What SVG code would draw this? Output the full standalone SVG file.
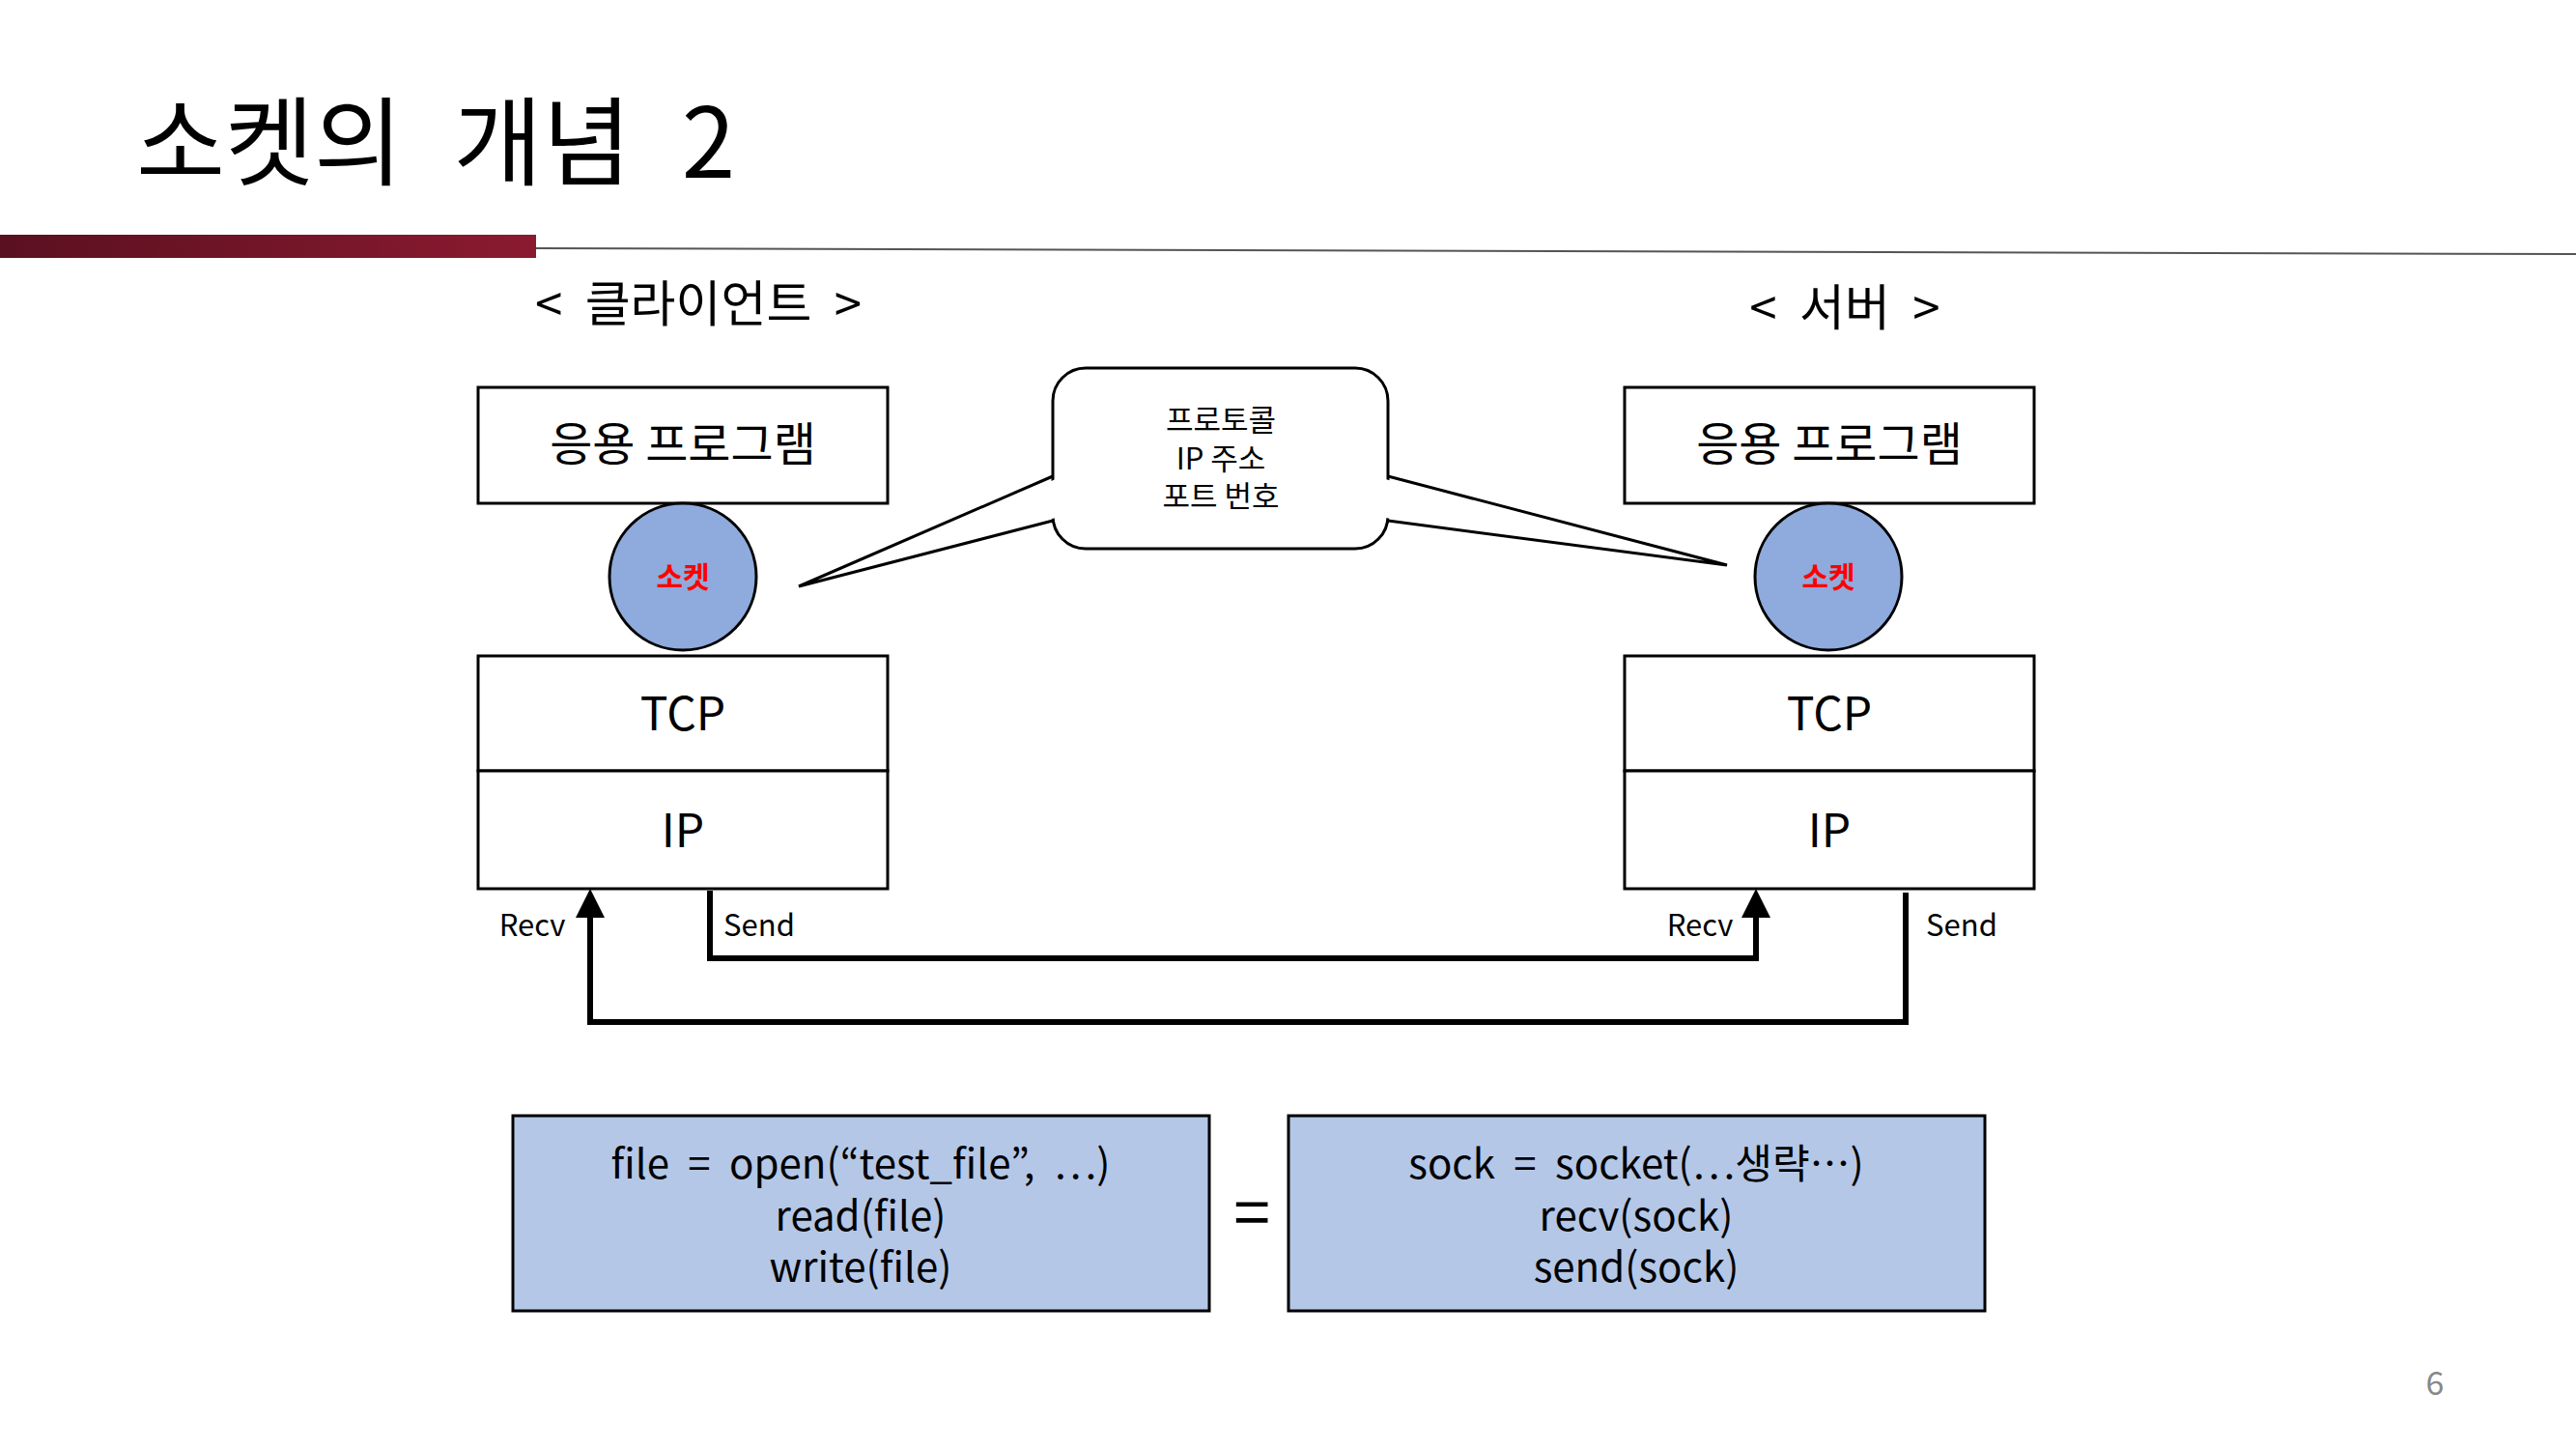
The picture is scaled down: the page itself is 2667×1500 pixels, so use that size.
<svg xmlns="http://www.w3.org/2000/svg" width="2667" height="1500" viewBox="0 0 2667 1500">
<style>
text{font-family:"Noto Sans CJK KR","Noto Sans",sans-serif;fill:#000;text-anchor:middle}
.box{fill:#fff;stroke:#000;stroke-width:3}
.code{fill:#b4c7e7;stroke:#000;stroke-width:3}
.sock{fill:#8faadc;stroke:#000;stroke-width:3}
.st{fill:#ff0000;font-weight:bold;font-size:30px}
.lbl{font-size:48px}
.sm{font-size:31px}
.ct{font-size:42px;word-spacing:10px}
.wire{fill:none;stroke:#000;stroke-width:6}
</style>
<defs>
<linearGradient id="rg" x1="0" x2="1"><stop offset="0" stop-color="#5a1020"/><stop offset="1" stop-color="#8b1a30"/></linearGradient>
<marker id="ah" markerWidth="5" markerHeight="5" refX="2.5" refY="2.5" orient="auto" markerUnits="strokeWidth"><path d="M0,0L5,2.5L0,5z" fill="#000"/></marker>
</defs>
<rect width="2667" height="1500" fill="#fff"/>
<text x="141" y="184" style="font-size:100px;text-anchor:start;word-spacing:30px">소켓의 개념 2</text>
<rect x="0" y="243" width="555" height="24" fill="url(#rg)"/>
<line x1="555" y1="257" x2="2667" y2="263" stroke="#555" stroke-width="2"/>
<text x="723" y="333" style="font-size:51px;word-spacing:12px">&lt; 클라이언트 &gt;</text>
<text x="1910" y="337" style="font-size:51px;word-spacing:12px">&lt; 서버 &gt;</text>
<g id="client-app"><rect class="box" x="495" y="401" width="424" height="120"/><text class="lbl" x="707" y="477">응용 프로그램</text></g>
<g id="client-tcp"><rect class="box" x="495" y="679" width="424" height="119"/><text class="lbl" x="707" y="756">TCP</text></g>
<g id="client-ip"><rect class="box" x="495" y="798" width="424" height="122"/><text class="lbl" x="707" y="877">IP</text></g>
<g id="client-sock"><circle class="sock" cx="707" cy="597" r="76"/><text class="st" x="707" y="608">소켓</text></g>
<g id="server-app"><rect class="box" x="1682" y="401" width="424" height="120"/><text class="lbl" x="1894" y="477">응용 프로그램</text></g>
<g id="server-tcp"><rect class="box" x="1682" y="679" width="424" height="119"/><text class="lbl" x="1894" y="756">TCP</text></g>
<g id="server-ip"><rect class="box" x="1682" y="798" width="424" height="122"/><text class="lbl" x="1894" y="877">IP</text></g>
<g id="server-sock"><circle class="sock" cx="1893" cy="597" r="76"/><text class="st" x="1893" y="608">소켓</text></g>
<g id="callout">
<rect x="1090" y="381" width="347" height="187" rx="34" fill="#fff" stroke="#000" stroke-width="3"/>
<polygon points="1093,496 827,607 1093,536" fill="#fff"/>
<polygon points="1434,496 1788,585 1434,536" fill="#fff"/>
<polyline points="1090,493 827,607 1090,539" fill="none" stroke="#000" stroke-width="3"/>
<polyline points="1437,493 1788,585 1437,539" fill="none" stroke="#000" stroke-width="3"/>
<text class="sm" x="1264" y="446">프로토콜</text>
<text class="sm" x="1264" y="486">IP 주소</text>
<text class="sm" x="1264" y="525">포트 번호</text>
</g>
<g id="connectors">
<polyline class="wire" points="735,922 735,992 1818,992 1818,935" marker-end="url(#ah)"/>
<polyline class="wire" points="1973,924 1973,1058 611,1058 611,935" marker-end="url(#ah)"/>
</g>
<text class="sm" x="551" y="969">Recv</text>
<text class="sm" x="786" y="969">Send</text>
<text class="sm" x="1760" y="969">Recv</text>
<text class="sm" x="2031" y="969">Send</text>
<g id="file-code"><rect class="code" x="531" y="1155" width="721" height="202"/>
<text class="ct" x="891" y="1220">file = open(“test_file”, …)</text>
<text class="ct" x="891" y="1274">read(file)</text>
<text class="ct" x="891" y="1327">write(file)</text></g>
<text x="1296" y="1280" style="font-size:68px">=</text>
<g id="sock-code"><rect class="code" x="1334" y="1155" width="721" height="202"/>
<text class="ct" x="1694" y="1220">sock = socket(…생략…)</text>
<text class="ct" x="1694" y="1274">recv(sock)</text>
<text class="ct" x="1694" y="1327">send(sock)</text></g>
<text x="2521" y="1444" style="font-size:34px;fill:#888">6</text>
</svg>
